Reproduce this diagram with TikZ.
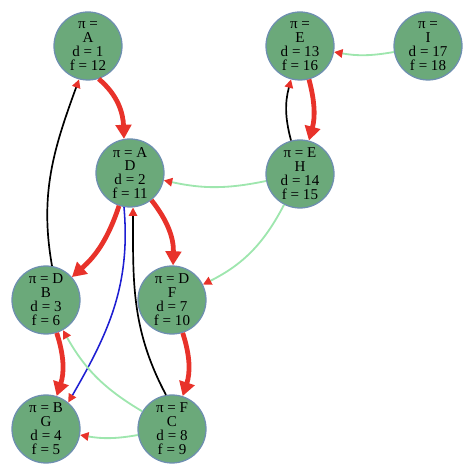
\documentclass[tikz,border=0pt]{standalone}
\usepackage{fontspec}
\setmainfont{Liberation Serif}
\usetikzlibrary{arrows.meta}
\definecolor{nodegreen}{HTML}{6BA97A}
\definecolor{rimblue}{HTML}{6E8FB0}
\definecolor{treered}{HTML}{E8322A}
\definecolor{crossgreen}{HTML}{9EE6AE}
\definecolor{fwdblue}{HTML}{1E1ED2}

\begin{document}
\begin{tikzpicture}
      \tikzstyle vertex=[circle, fill=nodegreen, draw=rimblue, line width=0.9pt,
      minimum size=1.7cm, inner sep=0pt, align=center,
      font=\fontsize{10.7}{9.9}\selectfont]
      \tikzstyle tree=[treered, line width=3.4pt,
      -{Triangle[length=10pt,width=11pt]}]
      \tikzstyle back=[black, line width=1.2pt,
      -{Triangle[length=6pt,width=6pt,color=treered]}]
      \tikzstyle forward=[fwdblue, line width=1.1pt,
      -{Triangle[length=6pt,width=6pt,color=treered]}]
      \tikzstyle cross=[crossgreen, line width=1.3pt,
      -{Triangle[length=6pt,width=6pt,color=treered]}]
      \useasboundingbox (0,0) rectangle (11.85,11.875);
      % vertices
      \node [vertex] (A) at (2.2,10.725) {π =\\A\\d = 1\\f = 12};
      \node [vertex] (E) at (7.5,10.725) {π =\\E\\d = 13\\f = 16};
      \node [vertex] (I) at (10.7,10.725) {π =\\I\\d = 17\\f = 18};
      \node [vertex] (D) at (3.25,7.55) {π = A\\D\\d = 2\\f = 11};
      \node [vertex] (H) at (7.5,7.525) {π = E\\H\\d = 14\\f = 15};
      \node [vertex] (B) at (1.15,4.375) {π = D\\B\\d = 3\\f = 6};
      \node [vertex] (F) at (4.3,4.375) {π = D\\F\\d = 7\\f = 10};
      \node [vertex] (G) at (1.15,1.15) {π = B\\G\\d = 4\\f = 5};
      \node [vertex] (C) at (4.3,1.15) {π = F\\C\\d = 8\\f = 9};
      % tree edges
      \draw [tree] (A.-72) to [out=-40, in=92] (D.100);
      \draw [tree] (D) to [bend left=15] (B);
      \draw [tree] (D) to [bend left=20] (F);
      \draw [tree] (B) to [bend left=18] (G);
      \draw [tree] (F) to [bend left=18] (C);
      \draw [tree] (E) to [bend left=15] (H);
      % back edges
      \draw [back] (H) to [bend left=15] (E);
      \draw [back] (B.80) to [out=100, in=-110] (A.-105);
      \draw [back] (C.100) to [out=118, in=-90] (D.-85);
      % forward edge
      \draw [forward] (D.-100) to [out=-85, in=60] (G.50);
      % cross edges
      \draw [cross] (H) to [bend left=12] (D);
      \draw [cross] (H) to [bend left=18] (F);
      \draw [cross] (C) to [bend left=15] (B);
      \draw [cross] (C) to [bend left=10] (G);
      \draw [cross] (I) to [bend left=10] (E);
\end{tikzpicture}
\end{document}
